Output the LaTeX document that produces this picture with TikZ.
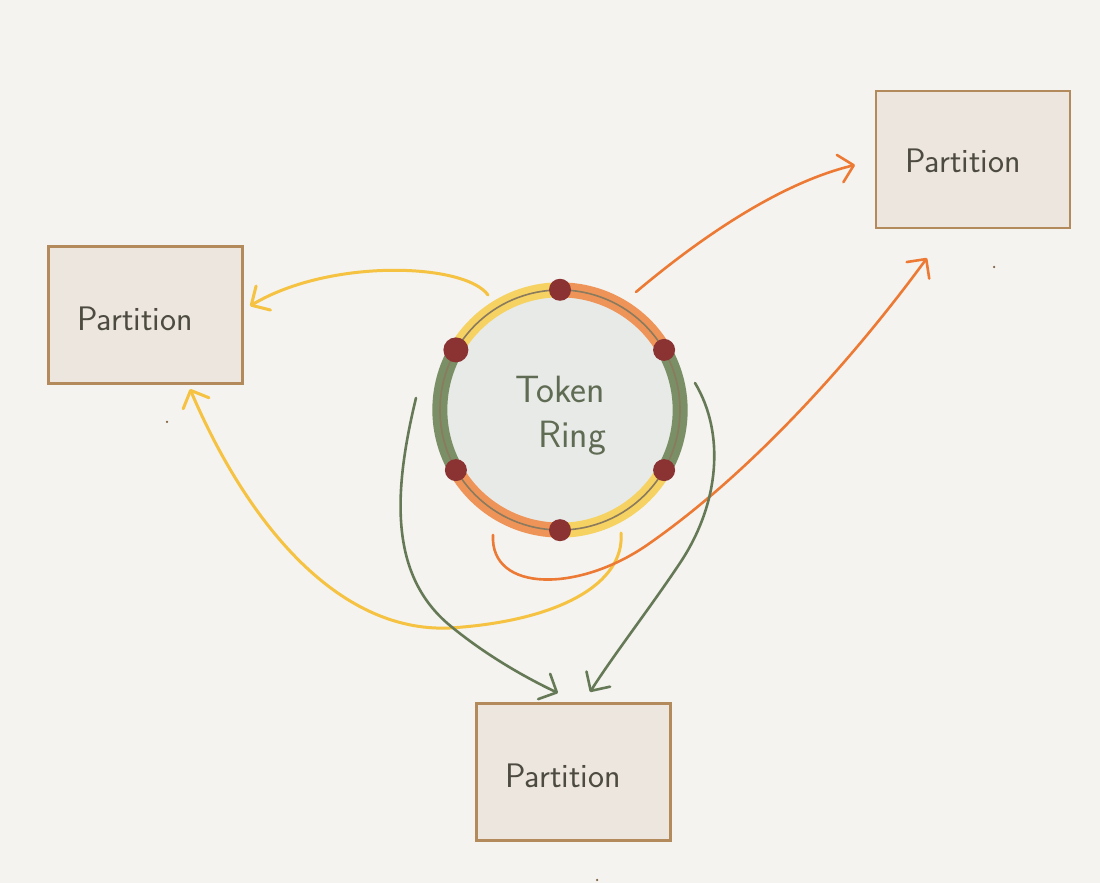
\documentclass[tikz,border=0pt]{standalone}
\usetikzlibrary{arrows.meta}
\definecolor{bg}{HTML}{F4F3EF}
\definecolor{boxfill}{HTML}{ECE6DF}
\definecolor{boxline}{HTML}{B38A5C}
\definecolor{ringfill}{HTML}{E8EAE7}
\definecolor{ringline}{HTML}{8A7A5E}
\definecolor{dotred}{HTML}{8B3232}
\definecolor{yel}{HTML}{F5C242}
\definecolor{yelband}{HTML}{F5D262}
\definecolor{ora}{HTML}{EC7A35}
\definecolor{oraband}{HTML}{EE9458}
\definecolor{grn}{HTML}{667956}
\definecolor{grnband}{HTML}{7A8F65}
\definecolor{txt}{HTML}{4D4A40}
\definecolor{ringtxt}{HTML}{5F6B52}
\tikzset{
  partbox/.style={draw=boxline, fill=boxfill, line width=2.5pt, minimum width=194pt, minimum height=137pt, inner sep=0pt},
  partlabel/.style={text=txt, font=\sffamily\fontsize{34}{40}\selectfont},
  barb/.style={-{Straight Barb[length=14pt,width=28pt,round]}, line cap=round},
  yarrow/.style={barb, draw=yel, line width=3pt},
  oarrow/.style={barb, draw=ora, line width=2.6pt},
  garrow/.style={barb, draw=grn, line width=2.6pt},
  band/.style={line width=15pt, line cap=round},
  tokendot/.style={circle, fill=dotred, inner sep=0pt, minimum size=22pt},
  speck/.style={circle, fill=boxline!70!black, inner sep=0pt, minimum size=2.5pt}
}
\begin{document}
\begin{tikzpicture}[x=1pt,y=1pt]
\useasboundingbox (0,0) rectangle (1100,883);
\fill[bg] (0,0) rectangle (1100,883);

% boxes
\node[partbox] (lbox) at (145.5,568) {};
\node[partbox] (rbox) at (973,723.5) {};
\node[partbox] (bbox) at (573.5,111) {};
\node[partlabel] (ltxt) at (135,564) {Partition};
\node[partlabel] (rtxt) at (963,722) {Partition};
\node[partlabel] (btxt) at (563,107) {Partition};

% ring
\node[circle, fill=ringfill, minimum size=240pt, inner sep=0pt] (ring) at (560,473) {};
\draw[band, yelband] (ring.90) arc[start angle=90, end angle=150, radius=120pt];
\draw[band, oraband] (ring.30) arc[start angle=30, end angle=90, radius=120pt];
\draw[band, grnband] (ring.-30) arc[start angle=-30, end angle=30, radius=120pt];
\draw[band, yelband] (ring.-90) arc[start angle=-90, end angle=-30, radius=120pt];
\draw[band, oraband] (ring.-150) arc[start angle=-150, end angle=-90, radius=120pt];
\draw[band, grnband] (ring.150) arc[start angle=150, end angle=210, radius=120pt];
\draw[ringline, line width=1.6pt] (ring.center) circle[radius=120pt];
\node[text=ringtxt, font=\sffamily\fontsize{38}{45}\selectfont, align=center] (ringtxt) at (560,467) {Token\\\hspace*{24pt}Ring};

% dots
\node[tokendot] (d90) at (ring.90) {};
\node[tokendot, minimum size=25pt] (d150) at (ring.150) {};
\node[tokendot] (d210) at (ring.210) {};
\node[tokendot] (d270) at (ring.270) {};
\node[tokendot] (d330) at (ring.330) {};
\node[tokendot] (d30) at (ring.30) {};

% connector end points
\coordinate (y1s) at (488,588);
\coordinate (y2s) at (621,350);
\coordinate (o1s) at (636,591);
\coordinate (o2s) at (493,348);
\coordinate (g1s) at (416,485);
\coordinate (g2s) at (695,500);
\coordinate (lboxE) at (250,577);
\coordinate (lboxS) at (190,494);
\coordinate (rboxW) at (855,718);
\coordinate (rboxS) at (927,625);
\coordinate (bboxN1) at (558,190);
\coordinate (bboxN2) at (590,191);

% yellow arrows
\draw[yarrow] (y1s) .. controls (465,620) and (330,625) .. (lboxE);
\draw[yarrow] (y2s) .. controls (625,300) and (560,262) .. (450,255)
                  .. controls (335,250) and (245,365) .. (lboxS);
% orange arrows
\draw[oarrow] (o1s) .. controls (700,645) and (780,700) .. (rboxW);
\draw[oarrow] (o2s) .. controls (490,290) and (580,290) .. (650,340)
                  .. controls (750,410) and (850,520) .. (rboxS);
% green arrows
\draw[garrow] (g1s) .. controls (393,390) and (390,310) .. (447,260)
                  .. controls (480,232) and (520,208) .. (bboxN1);
\draw[garrow] (g2s) .. controls (725,450) and (720,380) .. (680,320)
                  .. controls (650,275) and (615,230) .. (bboxN2);

% specks
\node[speck] (s1) at (167,461) {};
\node[speck] (s2) at (994,616) {};
\node[speck] (s3) at (597,3) {};
\end{tikzpicture}
\end{document}
